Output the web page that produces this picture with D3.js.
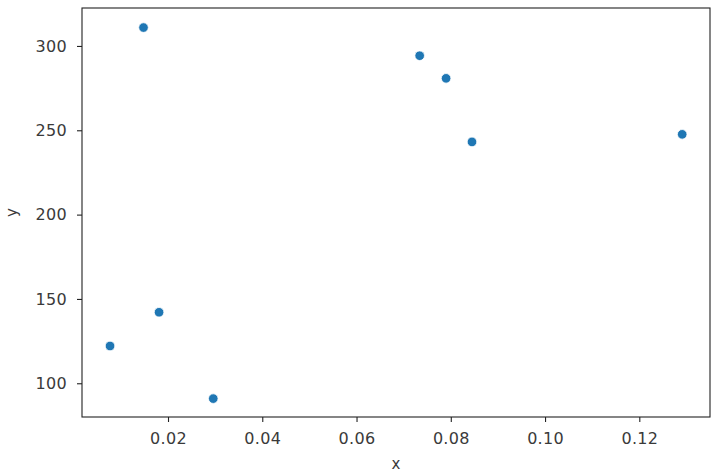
<!DOCTYPE html>
<html>
<head>
<meta charset="utf-8">
<script src="https://cdn.jsdelivr.net/npm/d3@7"></script>
<style>
  body { margin: 0; background: #fff; }
  text { font-family: "DejaVu Sans", sans-serif; }
</style>
</head>
<body>
<div id="chart"></div>
<script>
// Data
var xValues = [0.0077, 0.0181, 0.0296, 0.0148, 0.0734, 0.0790, 0.0845, 0.1291];
var yValues = [122.1, 142.1, 90.9, 310.9, 294.2, 280.8, 243.1, 247.6];
var xTicks = [0.02, 0.04, 0.06, 0.08, 0.10, 0.12];
var yTicks = [100, 150, 200, 250, 300];

var data = xValues.map(function(d, i) { return {x: d, y: yValues[i]}; });

// Dimensions and margins
var margin = {top: 8, right: 7, bottom: 58, left: 82},
    width = 717 - margin.left - margin.right,
    height = 475 - margin.top - margin.bottom;

var svg = d3.select("#chart")
  .append("svg")
    .attr("width", 717)
    .attr("height", 475)
  .append("g")
    .attr("transform", "translate(" + margin.left + "," + margin.top + ")");

// Scales
var x = d3.scaleLinear().domain([0.00175, 0.135]).range([0, width]);
var y = d3.scaleLinear().domain([80, 322.5]).range([height, 0]);

// X axis
var xAxis = svg.append("g")
    .attr("transform", "translate(0," + height + ")")
    .call(d3.axisBottom(x).tickValues(xTicks).tickFormat(d3.format(".2f")).tickSizeOuter(0).tickSize(5).tickPadding(11));

// Y axis
var yAxis = svg.append("g")
    .call(d3.axisLeft(y).tickValues(yTicks).tickSizeOuter(0).tickSize(5).tickPadding(10));

[xAxis, yAxis].forEach(function(a) {
  a.select(".domain").remove();
  a.selectAll(".tick line").attr("stroke", "#222").attr("stroke-width", 1.1);
  a.selectAll(".tick text")
    .attr("fill", "#3a3a3a")
    .style("font-size", "16px")
    .style("letter-spacing", "0.3px");
});

// Frame
svg.append("rect")
    .attr("width", width)
    .attr("height", height)
    .attr("fill", "none")
    .attr("stroke", "#222")
    .attr("stroke-width", 1.1);

// Axis titles
svg.append("text")
    .attr("x", width / 2)
    .attr("y", height + 52)
    .attr("text-anchor", "middle")
    .attr("fill", "#3a3a3a")
    .style("font-size", "15px")
    .text("x");

svg.append("text")
    .attr("transform", "rotate(-90)")
    .attr("x", -height / 2)
    .attr("y", -65)
    .attr("text-anchor", "middle")
    .attr("fill", "#3a3a3a")
    .style("font-size", "15px")
    .text("y");

// Points
svg.selectAll("circle")
    .data(data)
  .enter().append("circle")
    .attr("cx", function(d) { return x(d.x); })
    .attr("cy", function(d) { return y(d.y); })
    .attr("r", 4.8)
    .attr("fill", "#1f77b4")
    .attr("stroke", "#fff")
    .attr("stroke-width", 0.8);
</script>
</body>
</html>
